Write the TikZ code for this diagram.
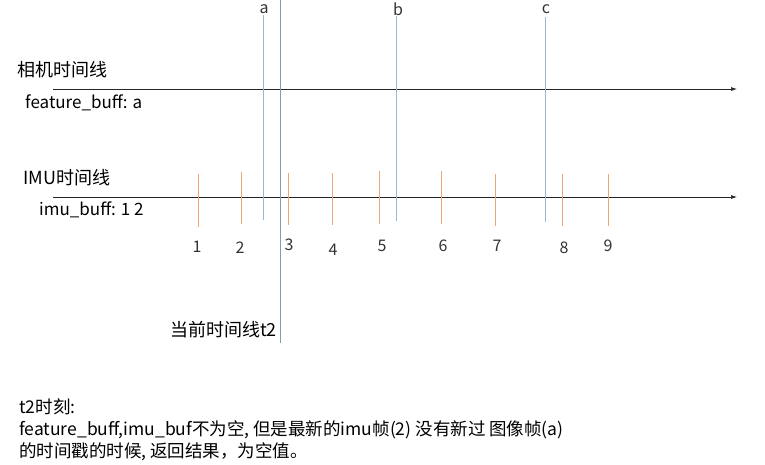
\documentclass[tikz,border=0pt]{standalone}
\usepackage{fontspec}
\setmainfont{Noto Sans CJK SC}
\usetikzlibrary{arrows.meta}
\definecolor{camblue}{RGB}{150,185,215}
\definecolor{imuorange}{RGB}{238,165,120}
\tikzset{
  axis/.style={draw=black!85, line width=0.7pt, -{Latex[length=6pt,width=4pt]}},
  camline/.style={draw=camblue, line width=1pt},
  tick/.style={draw=imuorange, line width=1pt},
  num/.style={inner sep=0pt, font=\fontsize{16}{19}\selectfont, text=black!80},
  txt/.style={inner sep=0pt, anchor=west, font=\fontsize{17.5}{20}\selectfont},
}
\begin{document}
\begin{tikzpicture}[x=1pt,y=-1pt]
\useasboundingbox (0,0) rectangle (765,464);
% axes
\coordinate (c0) at (53,89); \coordinate (c1) at (737,89);
\coordinate (i0) at (53,197); \coordinate (i1) at (737,197);
\draw[axis] (c0) -- (c1);
\draw[axis] (i0) -- (i1);
% labels
\node[txt, font=\fontsize{18}{21}\selectfont] (camt) at (17,70) {相机时间线};
\node[txt, font=\fontsize{17}{20}\selectfont] (fb) at (25,103) {feature\_buff: a};
\node[txt, font=\fontsize{18}{21}\selectfont] (imut) at (23,178) {IMU时间线};
\node[txt, font=\fontsize{17}{20}\selectfont] (ib) at (39,210) {imu\_buff: 1 2};
% orange ticks
\foreach \n/\x/\ya/\yb/\lx/\ly in {1/198/174/227/197/247, 2/241/172/224/240/248, 3/288/173/225/289/245, 4/332/173/225/333/250, 5/379/171/224/382/246, 6/441/171/224/443/246, 7/495/174/226/497/246, 8/562/174/226/564/248, 9/608/174/226/608/246}{
  \coordinate (t\n a) at (\x,\ya); \coordinate (t\n b) at (\x,\yb);
  \draw[tick] (t\n a) -- (t\n b);
  \node[num] (n\n) at (\lx,\ly) {\n};
}
% camera frames
\node[num] (la) at (264,9) {a};
\coordinate (a0) at (263,15); \coordinate (a1) at (263,220);
\draw[camline] (a0) -- (a1);
\node[num] (lb) at (398,9) {b};
\coordinate (b0) at (396,16); \coordinate (b1) at (396,221);
\draw[camline] (b0) -- (b1);
\node[num] (lc) at (546,9) {c};
\coordinate (cc0) at (545,17); \coordinate (cc1) at (545,222);
\draw[camline] (cc0) -- (cc1);
% current time t2
\coordinate (t20) at (280,0); \coordinate (t21) at (280,343);
\draw[draw=camblue!70!black!80, line width=1pt] (t20) -- (t21);
\node[inner sep=0pt, anchor=east, font=\fontsize{18}{21}\selectfont] (t2l) at (277,330) {当前时间线t2};
% bottom text
\node[txt] (l1) at (19,407) {t2时刻:};
\node[txt] (l2) at (19,430) {feature\_buff,imu\_buf不为空, 但是最新的imu帧(2) 没有新过 图像帧(a)};
\node[txt] (l3) at (19,452) {的时间戳的时候, 返回结果，为空值。};
\end{tikzpicture}
\end{document}
